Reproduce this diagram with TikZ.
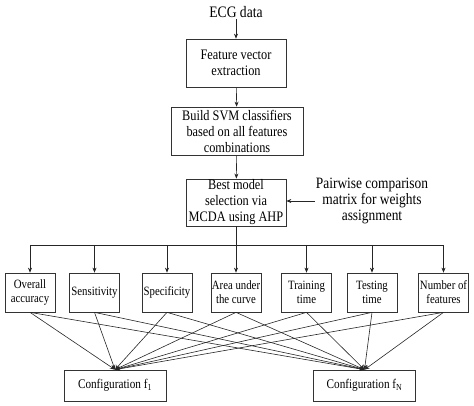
\documentclass[tikz,border=0pt]{standalone}
\usepackage{fontspec}
\setmainfont{Liberation Serif}[FakeStretch=0.85]
\usetikzlibrary{arrows.meta}
\tikzset{
  box/.style={draw=black!80, line width=0.7pt, align=center, inner sep=1pt, font=\fontsize{14.5}{16}\selectfont},
  crit/.style={box, minimum width=50pt, minimum height=39pt, font=\fontsize{12.7}{14}\selectfont},
  cfg/.style={box, minimum width=102pt, minimum height=31pt, font=\fontsize{13.2}{16}\selectfont},
  arr/.style={-{Stealth[length=5pt,width=4pt]}, line width=0.6pt, draw=black!85},
  conn/.style={line width=0.6pt, draw=black!85},
}
\begin{document}
\begin{tikzpicture}[x=1pt,y=-1pt]
\useasboundingbox (0,0) rectangle (474,406);
\node (ecg) at (236,12) [font=\fontsize{16}{16}\selectfont, inner sep=1pt] {ECG data};
\node (b1) at (236,63) [box, minimum width=100pt, minimum height=48pt] {Feature vector\\extraction};
\node (b2) at (237,131) [box, minimum width=132pt, minimum height=48pt] {Build SVM classifiers\\based on all features\\combinations};
\node (b3) at (236,202.5) [box, minimum width=100pt, minimum height=47pt] {Best model\\selection via\\MCDA using AHP};
\node (pw) at (372,201) [align=center, inner sep=1pt, font=\fontsize{15.8}{16}\selectfont] {Pairwise comparison\\matrix for weights\\assignment};
\coordinate (bus) at (236,245);
\node (ca) at (30,292.5) [crit] {Overall\\accuracy};
\node (cb) at (94.5,292.5) [crit] {Sensitivity};
\node (cc) at (167,292.5) [crit] {Specificity};
\node (cd) at (236,292.5) [crit] {Area under\\the curve};
\node (ce) at (306.5,292.5) [crit] {Training\\time};
\node (cf) at (372,292.5) [crit] {Testing\\time};
\node (cg) at (443.5,292.5) [crit] {Number of\\features};
\node (f1) at (115,385.5) [cfg] {Configuration f\textsubscript{1}};
\node (fN) at (364.5,385.5) [cfg] {Configuration f\textsubscript{N}};
\draw[arr] (ecg) -- (b1);
\draw[arr] (b1) -- (b2);
\draw[arr] (b2) -- (b3);
\draw[arr] (pw.west) -- (pw.west -| b3.east);
\draw[conn] (b3.south) -- (bus);
\draw[conn] (ca.north |- bus) -- (cg.north |- bus);
\foreach \n in {ca,cb,cc,cd,ce,cf,cg}{
  \draw[arr] (\n.north |- bus) -- (\n.north);
  \draw[arr] (\n.south) -- (f1.north);
  \draw[arr] (\n.south) -- (fN.north);
}
\end{tikzpicture}
\end{document}
